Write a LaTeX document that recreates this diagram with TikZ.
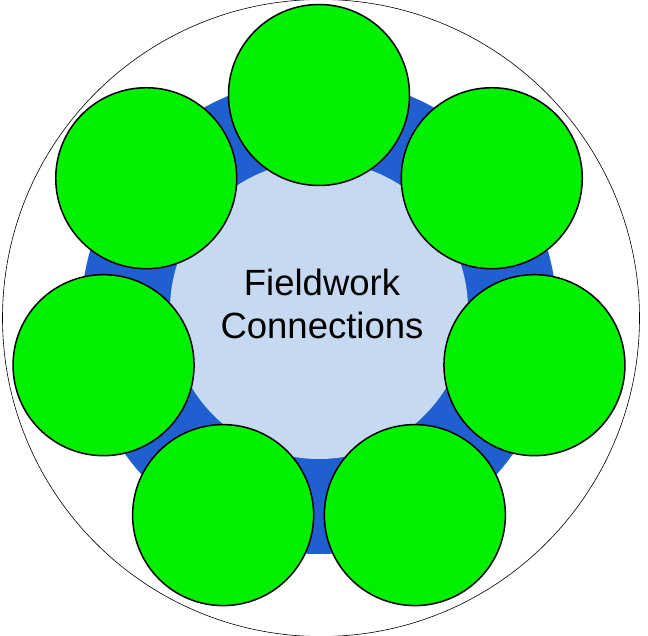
\documentclass[tikz,border=0pt]{standalone}
\usepackage{fontspec}
\setmainfont{Liberation Sans}
\definecolor{ringblue}{HTML}{1F5FCF}
\definecolor{lightblue}{HTML}{C6D9F1}
\definecolor{gr}{HTML}{00F000}
\begin{document}
\begin{tikzpicture}[x=1pt,y=-1pt,
  petal/.style={circle,draw=black,line width=1.5pt,fill=gr,minimum size=181pt,inner sep=0pt}]
\useasboundingbox (0,0) rectangle (648,636);
\node[circle,draw=black,line width=0.6pt,minimum size=637pt,inner sep=0pt] (outer) at (321,318) {};
\node[circle,fill=ringblue,minimum size=476pt,inner sep=0pt] (ring) at (319,316) {};
\node[circle,fill=lightblue,minimum size=298pt,inner sep=0pt] (hub) at (319,310) {};
\node[align=center,font=\fontsize{36.5}{43}\selectfont] (label) at (322,304) {Fieldwork\\Connections};
\foreach \i in {0,...,6}{
  \pgfmathsetmacro{\a}{90-360/7*\i}
  \node[petal] (p\i) at ({319+221*cos(\a)},{316-221*sin(\a)}) {};
}
\end{tikzpicture}
\end{document}
